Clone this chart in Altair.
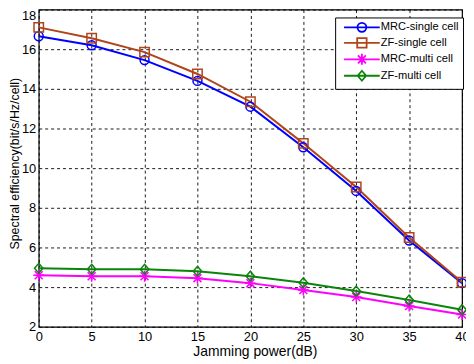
import altair as alt
import pandas as pd

# ---- data ----
jamming_power = [0, 5, 10, 15, 20, 25, 30, 35, 40]
mrc_single = [16.65, 16.2, 15.45, 14.4, 13.1, 11.05, 8.85, 6.35, 4.2]
zf_single = [17.1, 16.55, 15.85, 14.75, 13.35, 11.25, 9.05, 6.5, 4.25]
mrc_multi = [4.6, 4.55, 4.55, 4.45, 4.2, 3.85, 3.5, 3.05, 2.62]
zf_multi = [4.95, 4.9, 4.9, 4.8, 4.55, 4.22, 3.8, 3.35, 2.86]

series_names = ["MRC-single cell", "ZF-single cell", "MRC-multi cell", "ZF-multi cell"]
series_values = [mrc_single, zf_single, mrc_multi, zf_multi]
series_colors = ["#0000FF", "#B0441A", "#FF00FF", "#0A850A"]

x_ticks = [0, 5, 10, 15, 20, 25, 30, 35, 40]
y_ticks = [2, 4, 6, 8, 10, 12, 14, 16, 18]

rows = []
for name, vals in zip(series_names, series_values):
    for xv, yv in zip(jamming_power, vals):
        rows.append({"series": name, "power": xv, "eff": yv})
df = pd.DataFrame(rows)

# marker glyphs (unit paths)
circle_p = "M0.9,0A0.9,0.9,0,1,1,-0.9,0A0.9,0.9,0,1,1,0.9,0Z"
square_p = "M-0.95,-0.95L0.95,-0.95L0.95,0.95L-0.95,0.95Z"
star_p = "M-1.1,0L1.1,0M0,-1.1L0,1.1M-0.8,-0.8L0.8,0.8M-0.8,0.8L0.8,-0.8"
diamond_p = "M0,-1L0.85,0L0,1L-0.85,0Z"
marker_paths = [circle_p, square_p, star_p, diamond_p]
line_p = "M-3.6,0L3.6,0"
legend_paths = [line_p + p for p in marker_paths]

FONT = "Liberation Sans"

x_enc = alt.X("power:Q",
              scale=alt.Scale(domain=[0, 40], nice=False, zero=False),
              axis=alt.Axis(values=x_ticks, title="Jamming power(dB)",
                            grid=True, gridColor="black", gridDash=[3, 3],
                            gridOpacity=0.9, gridWidth=1,
                            domain=False, ticks=False,
                            labelFont=FONT, labelFontSize=13, labelColor="black",
                            labelPadding=4, labelFlush=False,
                            titleFont=FONT, titleFontSize=14, titleFontWeight="normal",
                            titleColor="black", titleX=218, titleY=29,
                            titleBaseline="alphabetic"))
y_enc = alt.Y("eff:Q",
              scale=alt.Scale(domain=[2, 18], nice=False, zero=False),
              axis=alt.Axis(values=y_ticks, title="Spectral efficiency(bit/s/Hz/cell)",
                            grid=True, gridColor="black", gridDash=[3, 3],
                            gridOpacity=0.9, gridWidth=1,
                            domain=False, ticks=False,
                            labelFont=FONT, labelFontSize=13, labelColor="black",
                            labelPadding=3, labelFlush=False,
                            labelBaseline={"condition": {"test": "datum.value == 18", "value": "top"},
                                           "value": "middle"},
                            titleFont=FONT, titleFontSize=12.5, titleFontWeight="normal",
                            titleColor="black", titleX=-24, titleY=155,
                            titleAlign="center", titleBaseline="middle", titleAngle=-90))

color_scale = alt.Scale(domain=series_names, range=series_colors)

base = alt.Chart(df)

lines = base.mark_line(strokeWidth=2).encode(
    x=x_enc, y=y_enc,
    color=alt.Color("series:N", scale=color_scale, legend=None),
    order=alt.Order("power:Q"),
)

markers = base.mark_point(filled=False, strokeWidth=1.5, size=100, opacity=1).encode(
    x=x_enc, y=y_enc,
    color=alt.Color("series:N", scale=color_scale, legend=None),
    shape=alt.Shape("series:N", scale=alt.Scale(domain=series_names, range=marker_paths), legend=None),
)

legend_cfg = dict(
    title=None, orient="none", legendX=299, legendY=8,
    fillColor="white", strokeColor="black", padding=4,
    rowPadding=-2.4, symbolSize=100, symbolStrokeWidth=1.8,
    symbolOffset=17, labelOffset=13, symbolOpacity=1,
    labelFont=FONT, labelFontSize=11.2, labelColor="black",
    cornerRadius=0,
)

legend_layer = base.mark_point(filled=False, strokeWidth=1.8, size=100, opacity=0).encode(
    x=x_enc, y=y_enc,
    color=alt.Color("series:N", scale=color_scale, legend=alt.Legend(**legend_cfg)),
    shape=alt.Shape("series:N", scale=alt.Scale(domain=series_names, range=legend_paths),
                    legend=alt.Legend(**legend_cfg)),
)

chart = alt.layer(lines, markers, legend_layer).resolve_scale(
    color="independent", shape="independent"
).properties(
    width=427, height=320,
    autosize=alt.AutoSizeParams(type="none"),
    padding={"left": 31, "top": 0, "right": 4, "bottom": 33},
    background="white",
).configure_view(stroke="black", strokeWidth=1.2)

chart.save("out.html", embed_options={"renderer": "svg", "actions": False})
